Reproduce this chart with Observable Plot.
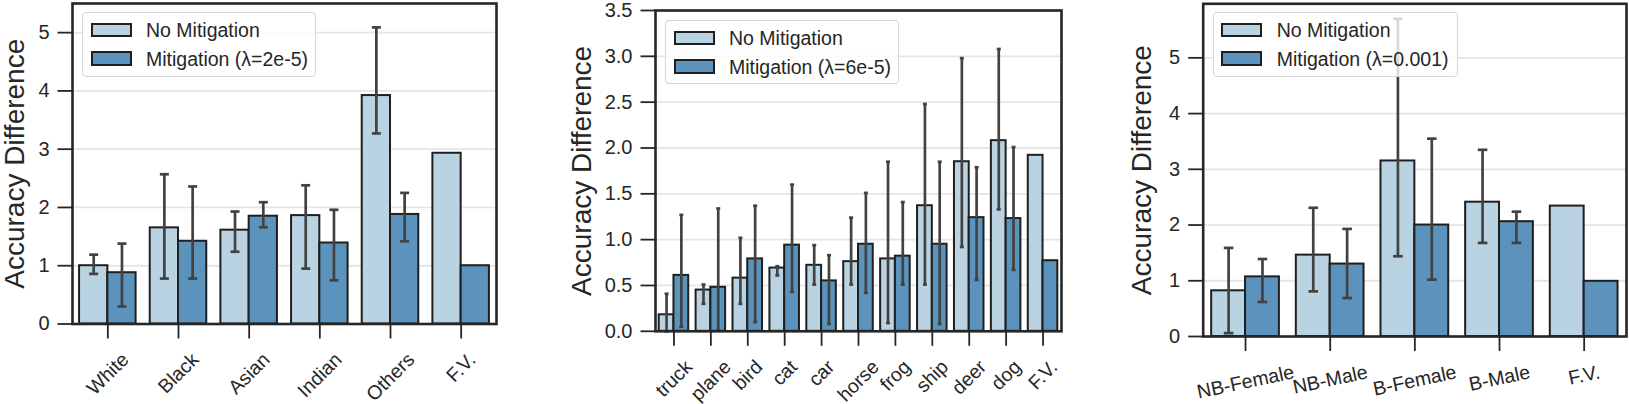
<!DOCTYPE html>
<html>
<head>
<meta charset="utf-8">
<meta name="viewport" content="width=1629, initial-scale=1">
<script src="https://cdn.jsdelivr.net/npm/d3@7"></script>
<script src="https://cdn.jsdelivr.net/npm/@observablehq/plot@0.6"></script>
<style>
  html, body { margin: 0; padding: 0; background: #fff; width: 1629px; height: 404px; overflow: hidden; }
  #wrap { position: relative; width: 1629px; height: 404px; overflow: hidden; background: #fff;
          font-family: "Liberation Sans", Arial, sans-serif; color: #262626; }
  #wrap svg { position: absolute; top: 0; overflow: visible; background: transparent; max-width: none !important; }
  .legend { position: absolute; border: 1.5px solid #d6d6d6; border-radius: 4px;
            background: rgba(255,255,255,0.8); box-sizing: border-box; }
  .legend .patch { position: absolute; width: 41px; height: 14.5px; border: 2px solid #1f1f1f; box-sizing: border-box; }
  .legend .lab { position: absolute; font-size: 19.5px; line-height: 20px; white-space: nowrap; color: #262626; }
</style>
</head>
<body>
<div id="wrap"></div>
<script>
// ---------------- data ----------------
const seriesNames = ["No Mitigation", "Mitigation"];

// Panel 1 (race groups)
const raceCats   = ["White", "Black", "Asian", "Indian", "Others", "F.V."];
const raceNo     = [1.00, 1.65, 1.61, 1.86, 3.92, 2.93];
const raceNoLo   = [0.86, 0.78, 1.24, 0.95, 3.27, null];
const raceNoHi   = [1.19, 2.57, 1.93, 2.38, 5.09, null];
const raceMit    = [0.88, 1.42, 1.85, 1.39, 1.88, 1.00];
const raceMitLo  = [0.30, 0.78, 1.66, 0.75, 1.42, null];
const raceMitHi  = [1.38, 2.36, 2.09, 1.96, 2.25, null];
const raceLambda = "Mitigation (λ=2e-5)";
const raceTicks  = [0, 1, 2, 3, 4, 5];

// Panel 2 (CIFAR classes)
const cifarCats   = ["truck", "plane", "bird", "cat", "car", "horse", "frog", "ship", "deer", "dog", "F.V."];
const cifarNo     = [0.18, 0.45, 0.58, 0.69, 0.72, 0.76, 0.79, 1.37, 1.85, 2.08, 1.92];
const cifarNoLo   = [0.00, 0.30, 0.30, 0.61, 0.51, 0.51, 0.09, 0.51, 0.92, 1.33, null];
const cifarNoHi   = [0.41, 0.51, 1.02, 0.71, 0.94, 1.24, 1.85, 2.48, 2.98, 3.08, null];
const cifarMit    = [0.61, 0.48, 0.79, 0.94, 0.55, 0.95, 0.82, 0.95, 1.24, 1.23, 0.77];
const cifarMitLo  = [0.05, 0.01, 0.10, 0.43, 0.08, 0.42, 0.51, 0.08, 0.56, 0.67, null];
const cifarMitHi  = [1.27, 1.34, 1.37, 1.60, 0.83, 1.51, 1.41, 1.85, 1.79, 2.01, null];
const cifarLambda = "Mitigation (λ=6e-5)";
const cifarTicks  = [0, 0.5, 1.0, 1.5, 2.0, 2.5, 3.0, 3.5];

// Panel 3 (gender x blond)
const celebCats   = ["NB-Female", "NB-Male", "B-Female", "B-Male", "F.V."];
const celebNo     = [0.82, 1.46, 3.15, 2.41, 2.34];
const celebNoLo   = [0.06, 0.81, 1.44, 1.68, null];
const celebNoHi   = [1.59, 2.31, 5.70, 3.35, null];
const celebMit    = [1.07, 1.30, 2.00, 2.06, 0.99];
const celebMitLo  = [0.62, 0.69, 1.02, 1.68, null];
const celebMitHi  = [1.39, 1.93, 3.55, 2.24, null];
const celebLambda = "Mitigation (λ=0.001)";
const celebTicks  = [0, 1, 2, 3, 4, 5];

// ---------------- style ----------------
const FONT = '"Liberation Sans", Arial, sans-serif';
const LIGHT = "#bad3e3";
const DARK = "#5b93bc";
const EDGE = "#1f1f1f";
const ERR = "#424242";
const INK = "#262626";
const BARW = 0.4;

const measureCtx = document.createElement("canvas").getContext("2d");
function textWidth(s, size) {
  measureCtx.font = `${size}px ${FONT}`;
  return measureCtx.measureText(s).width;
}

const capSymbol = {
  draw(ctx, size) {
    const r = Math.sqrt(size / Math.PI);
    ctx.moveTo(-r, 0);
    ctx.lineTo(r, 0);
  }
};

function buildRows(cats, no, noLo, noHi, mit, mitLo, mitHi) {
  const rows = [];
  cats.forEach((c, i) => {
    rows.push({cat: c, i, s: 0, v: no[i], lo: noLo[i], hi: noHi[i]});
    rows.push({cat: c, i, s: 1, v: mit[i], lo: mitLo[i], hi: mitHi[i]});
  });
  return rows;
}

function panel(cfg) {
  const rows = buildRows(cfg.cats, cfg.no, cfg.noLo, cfg.noHi, cfg.mit, cfg.mitLo, cfg.mitHi);
  const errRows = rows.filter(d => d.lo != null && d.hi != null);
  const center = d => d.i + (d.s === 0 ? -BARW / 2 : BARW / 2);
  const idx = cfg.cats.map((c, i) => i);
  const labelSize = 19.5;
  const theta = Math.abs(cfg.rotate) * Math.PI / 180;
  const labelMarks = cfg.cats.map((c, i) => {
    const w = textWidth(c, labelSize);
    const h = labelSize * 1.15;
    const H = w * Math.sin(theta) + h * Math.cos(theta);
    return Plot.text([c], {
      x: () => i, frameAnchor: "bottom", text: d => d,
      rotate: cfg.rotate, textAnchor: "middle", lineAnchor: "middle",
      dy: 24.5 + H / 2, fontSize: labelSize, fill: INK
    });
  });

  const svg = Plot.plot({
    width: cfg.width, height: 404,
    marginLeft: cfg.ml, marginRight: cfg.mr, marginTop: cfg.mt, marginBottom: cfg.mb,
    style: {fontFamily: FONT, color: INK, background: "transparent", overflow: "visible"},
    x: {type: "linear", domain: [-0.5, cfg.cats.length - 0.5]},
    y: {domain: [0, cfg.ymax]},
    marks: [
      Plot.gridY(cfg.ticks, {stroke: "#e5e5e5", strokeOpacity: 1, strokeWidth: 1.8}),
      Plot.rectY(rows.filter(d => d.s === 0), {
        x1: d => d.i - BARW, x2: d => d.i, y1: 0, y2: "v",
        fill: LIGHT, stroke: EDGE, strokeWidth: 2
      }),
      Plot.rectY(rows.filter(d => d.s === 1), {
        x1: d => d.i, x2: d => d.i + BARW, y1: 0, y2: "v",
        fill: DARK, stroke: EDGE, strokeWidth: 2
      }),
      Plot.ruleX(errRows, {x: center, y1: "lo", y2: "hi", stroke: ERR, strokeWidth: 2.7}),
      Plot.dot(errRows, {x: center, y: "hi", symbol: capSymbol, r: cfg.cap, stroke: ERR, strokeWidth: 2.7, fill: "none"}),
      Plot.dot(errRows, {x: center, y: "lo", symbol: capSymbol, r: cfg.cap, stroke: ERR, strokeWidth: 2.7, fill: "none"}),
      Plot.frame({stroke: INK, strokeWidth: 2.6}),
      Plot.axisY(cfg.ticks, {anchor: "left", tickSize: 14.5, tickPadding: 8.5, fontSize: 20,
        tickFormat: cfg.tickFormat, label: null, strokeWidth: 1.8, stroke: INK}),
      Plot.axisX(idx, {anchor: "bottom", tickSize: 15, tickFormat: () => "", label: null, strokeWidth: 1.8, stroke: INK}),
      ...labelMarks,
      Plot.text(["Accuracy Difference"], {
        frameAnchor: "left", text: d => d, rotate: -90, textAnchor: "middle", lineAnchor: "middle",
        dx: cfg.ylabDx, fontSize: 28, fill: INK
      })
    ]
  });
  svg.style.left = cfg.left + "px";
  svg.style.width = cfg.width + "px";
  svg.style.height = "404px";
  document.getElementById("wrap").appendChild(svg);

  // legend (HTML overlay inside the plot frame)
  const lg = document.createElement("div");
  lg.className = "legend";
  Object.assign(lg.style, {left: cfg.lg.x + "px", top: cfg.lg.y + "px", width: cfg.lg.w + "px", height: cfg.lg.h + "px"});
  const entries = [[LIGHT, seriesNames[0]], [DARK, cfg.lambda]];
  entries.forEach(([col, txt], k) => {
    const p = document.createElement("div");
    p.className = "patch";
    Object.assign(p.style, {left: "7.5px", top: (9.5 + k * 28.7) + "px", background: col});
    lg.appendChild(p);
    const t = document.createElement("div");
    t.className = "lab";
    t.textContent = txt;
    Object.assign(t.style, {left: "63px", top: (6.8 + k * 28.7) + "px"});
    lg.appendChild(t);
  });
  document.getElementById("wrap").appendChild(lg);
}

panel({
  cats: raceCats, no: raceNo, noLo: raceNoLo, noHi: raceNoHi, mit: raceMit, mitLo: raceMitLo, mitHi: raceMitHi,
  lambda: raceLambda, ticks: raceTicks, tickFormat: d3.format("d"), ymax: 5.5,
  left: 0, width: 520, ml: 72, mr: 24, mt: 3, mb: 80.5, cap: 4.5, rotate: -45, ylabDx: -57.3,
  lg: {x: 82, y: 12, w: 234, h: 65}
});
panel({
  cats: cifarCats, no: cifarNo, noLo: cifarNoLo, noHi: cifarNoHi, mit: cifarMit, mitLo: cifarMitLo, mitHi: cifarMitHi,
  lambda: cifarLambda, ticks: cifarTicks, tickFormat: d3.format(".1f"), ymax: 3.5,
  left: 510, width: 560, ml: 145, mr: 9, mt: 10, mb: 73.2, cap: 2, rotate: -45, ylabDx: -73,
  lg: {x: 665, y: 20, w: 234, h: 64}
});
panel({
  cats: celebCats, no: celebNo, noLo: celebNoLo, noHi: celebNoHi, mit: celebMit, mitLo: celebMitLo, mitHi: celebMitHi,
  lambda: celebLambda, ticks: celebTicks, tickFormat: d3.format("d"), ymax: 5.97,
  left: 1075, width: 554, ml: 127.7, mr: 3, mt: 3.3, mb: 68, cap: 4.8, rotate: -12, ylabDx: -60.7,
  lg: {x: 1212.7, y: 12.3, w: 245, h: 64.4}
});
</script>
</body>
</html>
